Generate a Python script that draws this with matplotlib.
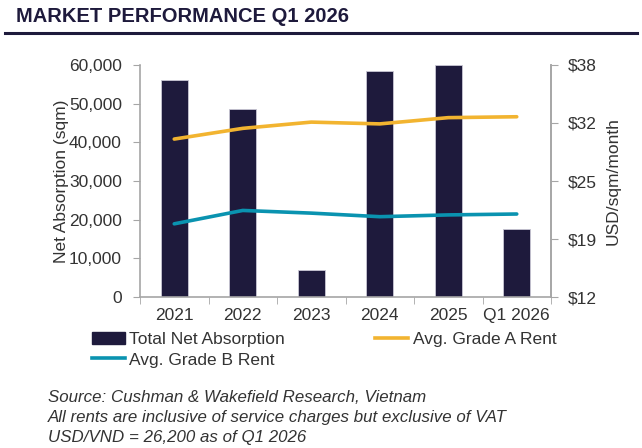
import matplotlib.pyplot as plt
from matplotlib.ticker import FuncFormatter
from matplotlib.lines import Line2D
from matplotlib.patches import Patch

plt.rcParams['font.family'] = ['Liberation Sans', 'DejaVu Sans']

categories = ['2021', '2022', '2023', '2024', '2025', 'Q1 2026']
net_absorption = [56000, 48700, 7000, 58400, 60000, 17500]
grade_a_rent = [29.7, 30.9, 31.6, 31.4, 32.1, 32.2]
grade_b_rent = [20.2, 21.7, 21.4, 21.0, 21.2, 21.3]

navy = '#1e1a3c'
gold = '#f2b430'
teal = '#0a93b0'
grey = '#a6a6a6'
txt = '#333333'
fs = 12.5

fig = plt.figure(figsize=(6.42, 4.48), dpi=100)

# title + underline
fig.text(16 / 642, 1 - 16 / 448, 'MARKET PERFORMANCE Q1 2026', fontsize=14.5,
         fontweight='bold', color=navy, va='center', ha='left')
fig.add_artist(Line2D([5 / 642, 637 / 642], [1 - 33 / 448] * 2, color=navy, lw=2.2))

ax = fig.add_axes([140 / 642, 1 - 297 / 448, 411 / 642, 232 / 448])
x = list(range(len(categories)))
ax.bar(x, net_absorption, width=0.4, color=navy, edgecolor='#c9c7d4', linewidth=0.6, zorder=2)
ax.set_xlim(-0.5, len(categories) - 0.5)
ax.set_ylim(0, 60000)
ax.set_yticks(range(0, 60001, 10000))
ax.yaxis.set_major_formatter(FuncFormatter(lambda v, p: f'{int(v):,}'))
ax.set_ylabel('Net Absorption (sqm)', fontsize=fs, color=txt, labelpad=0)
ax.set_xticks(x)
ax.set_xticklabels(categories)
ax.set_xticks([i + 0.5 for i in range(-1, len(categories))], minor=True)
ax.tick_params(axis='x', which='major', length=0, pad=8, labelsize=fs, labelcolor=txt)
ax.tick_params(axis='x', which='minor', length=5, color=grey, direction='out')
ax.tick_params(axis='y', length=5, color=grey, labelsize=fs, labelcolor=txt, pad=8)
ax.spines['top'].set_visible(False)
for s in ['left', 'bottom', 'right']:
    ax.spines[s].set_color(grey)
    ax.spines[s].set_linewidth(1.2)

ax2 = ax.twinx()
ax2.plot(x, grade_a_rent, color=gold, lw=2.6, solid_capstyle='round', zorder=3)
ax2.plot(x, grade_b_rent, color=teal, lw=2.6, solid_capstyle='round', zorder=3)
ax2.set_ylim(12, 38)
ax2.set_yticks([12, 18.5, 25, 31.5, 38])
ax2.yaxis.set_major_formatter(FuncFormatter(lambda v, p: f'${int(v + 0.5)}'))
ax2.tick_params(axis='y', length=5, color=grey, labelsize=fs, labelcolor=txt, pad=7)
ax2.set_ylabel('USD/sqm/month', fontsize=fs, color=txt, labelpad=6)
for s in ['top', 'left', 'bottom']:
    ax2.spines[s].set_visible(False)
ax2.spines['right'].set_color(grey)
ax2.spines['right'].set_linewidth(1.2)

handles = [Patch(facecolor=navy, edgecolor=navy),
           Line2D([], [], color=teal, lw=2.6),
           Line2D([], [], color=gold, lw=2.6)]
labels = ['Total Net Absorption', 'Avg. Grade B Rent', 'Avg. Grade A Rent']
fig.legend(handles, labels, loc='upper left', bbox_to_anchor=(92 / 642, 1 - 332 / 448),
           ncol=2, frameon=False, fontsize=fs, handlelength=1.9, handletextpad=0.25,
           columnspacing=5.2, labelspacing=0.3, borderaxespad=0, borderpad=0,
           labelcolor=txt)

notes = ['Source: Cushman & Wakefield Research, Vietnam',
         'All rents are inclusive of service charges but exclusive of VAT',
         'USD/VND = 26,200 as of Q1 2026']
for i, n in enumerate(notes):
    fig.text(48 / 642, 1 - (397 + 20 * i) / 448, n, fontsize=12.2, style='italic',
             color=txt, va='center', ha='left')

fig.savefig('out.png', dpi=100)
